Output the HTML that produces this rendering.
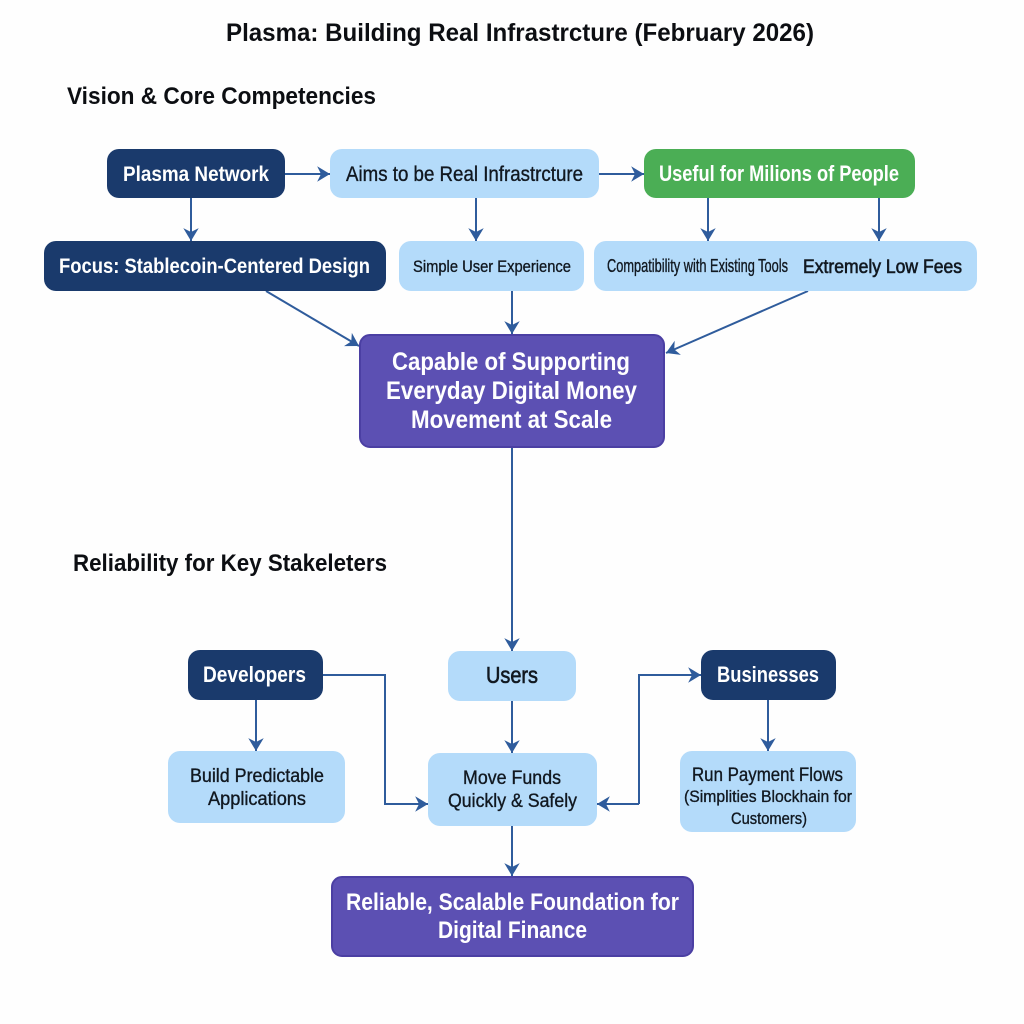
<!DOCTYPE html>
<html>
<head>
<meta charset="utf-8">
<style>
html,body{margin:0;padding:0;background:#fefefe;}
svg{display:block;}
text{font-family:"Liberation Sans",sans-serif;}
.w{fill:#fff;font-weight:bold;}
.d{fill:#111820;stroke:#111820;stroke-width:.35px;}
.h{fill:#0c0e12;font-weight:bold;}
.c{fill:none;stroke:#2f5c9c;stroke-width:2;}
</style>
</head>
<body>
<svg xmlns="http://www.w3.org/2000/svg" width="1024" height="1024" viewBox="0 0 1024 1024">
<defs>
<marker id="a" markerUnits="userSpaceOnUse" markerWidth="18" markerHeight="18" refX="11" refY="7" orient="auto" viewBox="0 0 14 14">
<path d="M1,1 L11,7 L1,13 L4,7 Z" fill="#2f5c9c"/>
</marker>
</defs>
<rect width="1024" height="1024" fill="#fefefe"/>

<text class="h" x="226" y="41" font-size="25" textLength="588" lengthAdjust="spacingAndGlyphs">Plasma: Building Real Infrastrcture (February 2026)</text>
<text class="h" x="67" y="104" font-size="24" textLength="309" lengthAdjust="spacingAndGlyphs">Vision &amp; Core Competencies</text>
<text class="h" x="73" y="571" font-size="24" textLength="314" lengthAdjust="spacingAndGlyphs">Reliability for Key Stakeleters</text>

<!-- connectors -->
<g class="c">
<path d="M285,174 H330" marker-end="url(#a)"/>
<path d="M599,174 H644" marker-end="url(#a)"/>
<path d="M191,198 V241" marker-end="url(#a)"/>
<path d="M476,198 V241" marker-end="url(#a)"/>
<path d="M708,198 V241" marker-end="url(#a)"/>
<path d="M879,198 V241" marker-end="url(#a)"/>
<path d="M266,291 L359,346" marker-end="url(#a)"/>
<path d="M512,291 V334" marker-end="url(#a)"/>
<path d="M808,291 L666,353" marker-end="url(#a)"/>
<path d="M512,448 V651" marker-end="url(#a)"/>
<path d="M512,701 V753" marker-end="url(#a)"/>
<path d="M256,700 V751" marker-end="url(#a)"/>
<path d="M768,700 V751" marker-end="url(#a)"/>
<path d="M323,675 H385 V804 H428" marker-end="url(#a)"/>
<path d="M639,804 H597" marker-end="url(#a)"/>
<path d="M639,804 V675 H701" marker-end="url(#a)"/>
<path d="M512,826 V876" marker-end="url(#a)"/>
</g>

<!-- boxes -->
<rect x="107" y="149" width="178" height="49" rx="12" fill="#1a3a6c"/>
<rect x="330" y="149" width="269" height="49" rx="12" fill="#b4dbfa"/>
<rect x="644" y="149" width="271" height="49" rx="12" fill="#4bae55"/>
<rect x="44" y="241" width="342" height="50" rx="12" fill="#1a3a6c"/>
<rect x="399" y="241" width="185" height="50" rx="12" fill="#b4dbfa"/>
<rect x="594" y="241" width="383" height="50" rx="12" fill="#b4dbfa"/>
<rect x="360" y="335" width="304" height="112" rx="10" fill="#5c50b3" stroke="#4b3fa3" stroke-width="2"/>
<rect x="188" y="650" width="135" height="50" rx="12" fill="#1a3a6c"/>
<rect x="448" y="651" width="128" height="50" rx="12" fill="#b4dbfa"/>
<rect x="701" y="650" width="135" height="50" rx="12" fill="#1a3a6c"/>
<rect x="168" y="751" width="177" height="72" rx="12" fill="#b4dbfa"/>
<rect x="428" y="753" width="169" height="73" rx="12" fill="#b4dbfa"/>
<rect x="680" y="751" width="176" height="81" rx="12" fill="#b4dbfa"/>
<rect x="332" y="877" width="361" height="79" rx="10" fill="#5c50b3" stroke="#4b3fa3" stroke-width="2"/>

<!-- labels -->
<text class="w" x="123" y="181" font-size="21" textLength="146" lengthAdjust="spacingAndGlyphs">Plasma Network</text>
<text class="d" x="346" y="181" font-size="21" textLength="237" lengthAdjust="spacingAndGlyphs">Aims to be Real Infrastrcture</text>
<text class="w" x="659" y="181" font-size="22" textLength="240" lengthAdjust="spacingAndGlyphs">Useful for Milions of People</text>
<text class="w" x="59" y="273" font-size="21" textLength="311" lengthAdjust="spacingAndGlyphs">Focus: Stablecoin-Centered Design</text>
<text class="d" x="413" y="272" font-size="17" textLength="158" lengthAdjust="spacingAndGlyphs">Simple User Experience</text>
<text class="d" x="607" y="272" font-size="18" textLength="181" lengthAdjust="spacingAndGlyphs">Compatibility with Existing Tools</text>
<text class="d" x="803" y="273" font-size="19" textLength="159" lengthAdjust="spacingAndGlyphs" style="stroke-width:.6px">Extremely Low Fees</text>

<text class="w" x="392" y="370" font-size="25" textLength="238" lengthAdjust="spacingAndGlyphs">Capable of Supporting</text>
<text class="w" x="386" y="399" font-size="25" textLength="251" lengthAdjust="spacingAndGlyphs">Everyday Digital Money</text>
<text class="w" x="411" y="428" font-size="25" textLength="201" lengthAdjust="spacingAndGlyphs">Movement at Scale</text>

<text class="w" x="203" y="682" font-size="22" textLength="103" lengthAdjust="spacingAndGlyphs">Developers</text>
<text class="d" x="486" y="683" font-size="23" textLength="52" lengthAdjust="spacingAndGlyphs" style="stroke-width:.6px">Users</text>
<text class="w" x="717" y="682" font-size="22" textLength="102" lengthAdjust="spacingAndGlyphs">Businesses</text>

<text class="d" x="190" y="782" font-size="19" textLength="134" lengthAdjust="spacingAndGlyphs">Build Predictable</text>
<text class="d" x="208" y="805" font-size="19" textLength="98" lengthAdjust="spacingAndGlyphs">Applications</text>
<text class="d" x="463" y="784" font-size="19" textLength="98" lengthAdjust="spacingAndGlyphs">Move Funds</text>
<text class="d" x="448" y="807" font-size="19" textLength="129" lengthAdjust="spacingAndGlyphs">Quickly &amp; Safely</text>
<text class="d" x="692" y="781" font-size="19" textLength="151" lengthAdjust="spacingAndGlyphs">Run Payment Flows</text>
<text class="d" x="684" y="802" font-size="17" textLength="168" lengthAdjust="spacingAndGlyphs">(Simplities Blockhain for</text>
<text class="d" x="731" y="824" font-size="17" textLength="76" lengthAdjust="spacingAndGlyphs">Customers)</text>

<text class="w" x="346" y="910" font-size="24" textLength="333" lengthAdjust="spacingAndGlyphs">Reliable, Scalable Foundation for</text>
<text class="w" x="438" y="938" font-size="24" textLength="149" lengthAdjust="spacingAndGlyphs">Digital Finance</text>
</svg>
</body>
</html>
